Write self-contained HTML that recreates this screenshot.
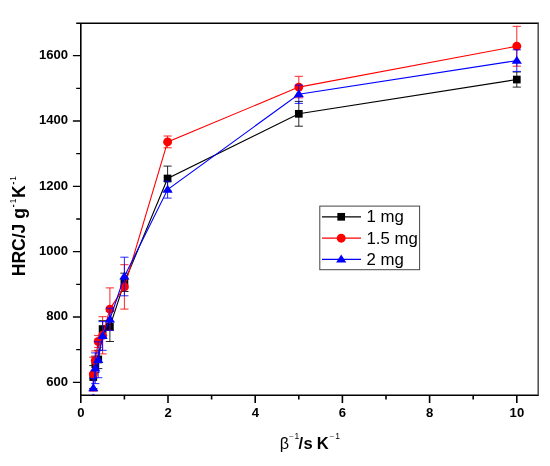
<!DOCTYPE html>
<html><head><meta charset="utf-8"><title>HRC chart</title>
<style>html,body{margin:0;padding:0;background:#fff}body{width:550px;height:466px;overflow:hidden}svg{display:block}text{font-family:"Liberation Sans",Arial,sans-serif}</style></head><body>
<svg width="550" height="466" viewBox="0 0 550 466">
<rect width="550" height="466" fill="#fff"/>
<clipPath id="c"><rect x="80.8" y="23.3" width="457.4" height="371.8"/></clipPath>
<g clip-path="url(#c)">
<polyline points="93.3,377.1 95.3,364.3 98.2,359.4 102.6,329.1 109.9,326.5 124.4,282.4 167.6,178.5 298.8,113.8 516.8,79.5" fill="none" stroke="#000" stroke-width="1.1"/>
<rect x="89.42" y="373.22" width="7.7" height="7.7" fill="#000"/>
<rect x="91.47" y="360.49" width="7.7" height="7.7" fill="#000"/>
<rect x="94.39" y="355.59" width="7.7" height="7.7" fill="#000"/>
<rect x="98.75" y="325.21" width="7.7" height="7.7" fill="#000"/>
<rect x="106.03" y="322.60" width="7.7" height="7.7" fill="#000"/>
<rect x="120.55" y="278.51" width="7.7" height="7.7" fill="#000"/>
<rect x="163.71" y="174.65" width="7.7" height="7.7" fill="#000"/>
<rect x="294.95" y="109.98" width="7.7" height="7.7" fill="#000"/>
<rect x="512.95" y="75.69" width="7.7" height="7.7" fill="#000"/>
</g>
<path d="M93.3 365.6V388.5M89.2 365.6h8.2M89.2 388.5h8.2M95.3 356.2V372.5M91.2 356.2h8.2M91.2 372.5h8.2M98.2 350.3V368.6M94.1 350.3h8.2M94.1 368.6h8.2M102.6 320.6V337.6M98.5 320.6h8.2M98.5 337.6h8.2M109.9 311.4V341.5M105.8 311.4h8.2M105.8 341.5h8.2M124.4 273.2V291.5M120.3 273.2h8.2M120.3 291.5h8.2M167.6 166.1V190.9M163.5 166.1h8.2M163.5 190.9h8.2M298.8 101.4V126.2M294.7 101.4h8.2M294.7 126.2h8.2M516.8 72.0V87.1M512.7 72.0h8.2M512.7 87.1h8.2" fill="none" stroke="#000" stroke-width="0.85" clip-path="url(#c)"/>
<g clip-path="url(#c)">
<polyline points="93.3,374.1 95.3,360.4 98.2,341.5 102.6,335.3 109.9,309.1 124.4,286.9 167.6,141.9 298.8,87.1 516.8,46.2" fill="none" stroke="#f00" stroke-width="1.1"/>
<circle cx="93.3" cy="374.1" r="4.45" fill="#f00"/>
<circle cx="95.3" cy="360.4" r="4.45" fill="#f00"/>
<circle cx="98.2" cy="341.5" r="4.45" fill="#f00"/>
<circle cx="102.6" cy="335.3" r="4.45" fill="#f00"/>
<circle cx="109.9" cy="309.1" r="4.45" fill="#f00"/>
<circle cx="124.4" cy="286.9" r="4.45" fill="#f00"/>
<circle cx="167.6" cy="141.9" r="4.45" fill="#f00"/>
<circle cx="298.8" cy="87.1" r="4.45" fill="#f00"/>
<circle cx="516.8" cy="46.2" r="4.45" fill="#f00"/>
</g>
<path d="M93.3 357.2V391.1M89.2 357.2h8.2M89.2 391.1h8.2M95.3 350.9V369.9M91.2 350.9h8.2M91.2 369.9h8.2M98.2 335.6V347.4M94.1 335.6h8.2M94.1 347.4h8.2M102.6 316.7V353.9M98.5 316.7h8.2M98.5 353.9h8.2M109.9 287.9V330.4M105.8 287.9h8.2M105.8 330.4h8.2M124.4 264.7V309.1M120.3 264.7h8.2M120.3 309.1h8.2M167.6 136.0V147.8M163.5 136.0h8.2M163.5 147.8h8.2M298.8 76.3V97.8M294.7 76.3h8.2M294.7 97.8h8.2M516.8 26.3V66.2M512.7 26.3h8.2M512.7 66.2h8.2" fill="none" stroke="#f00" stroke-width="0.85" clip-path="url(#c)"/>
<g clip-path="url(#c)">
<polyline points="93.3,388.2 95.3,368.3 98.2,359.8 102.6,335.9 109.9,319.3 124.4,276.5 167.6,189.6 298.8,94.2 516.8,60.6" fill="none" stroke="#00f" stroke-width="1.1"/>
<path d="M93.3 383.3L98.4 391.3H88.2Z" fill="#00f"/>
<path d="M95.3 363.4L100.4 371.4H90.2Z" fill="#00f"/>
<path d="M98.2 354.9L103.3 362.9H93.1Z" fill="#00f"/>
<path d="M102.6 331.0L107.7 339.0H97.5Z" fill="#00f"/>
<path d="M109.9 314.4L115.0 322.4H104.8Z" fill="#00f"/>
<path d="M124.4 271.6L129.5 279.6H119.3Z" fill="#00f"/>
<path d="M167.6 184.7L172.7 192.7H162.5Z" fill="#00f"/>
<path d="M298.8 89.3L303.9 97.3H293.7Z" fill="#00f"/>
<path d="M516.8 55.7L521.9 63.7H511.7Z" fill="#00f"/>
</g>
<path d="M93.3 378.4V391.2M89.2 378.4h8.2M95.3 352.9V383.6M91.2 352.9h8.2M91.2 383.6h8.2M98.2 341.8V377.7M94.1 341.8h8.2M94.1 377.7h8.2M102.6 321.6V350.3M98.5 321.6h8.2M98.5 350.3h8.2M109.9 308.2V330.4M105.8 308.2h8.2M105.8 330.4h8.2M124.4 257.2V295.8M120.3 257.2h8.2M120.3 295.8h8.2M167.6 181.1V198.1M163.5 181.1h8.2M163.5 198.1h8.2M298.8 85.1V103.4M294.7 85.1h8.2M294.7 103.4h8.2M516.8 49.8V71.4M512.7 49.8h8.2M512.7 71.4h8.2" fill="none" stroke="#00f" stroke-width="0.85" clip-path="url(#c)"/>
<path d="M80.8 23.3V403.1M76.2 23.3H538.9000000000001" fill="none" stroke="#000" stroke-width="1.6"/>
<path d="M80.8 395.20000000000005H538.8000000000001" fill="none" stroke="#000" stroke-width="1.35"/>
<path d="M538.2 23.3V395.1" fill="none" stroke="#4a4a4a" stroke-width="1.5"/>
<path d="M80.8 382.3h-7.9M80.8 317.0h-7.9M80.8 251.7h-7.9M80.8 186.3h-7.9M80.8 121.0h-7.9M80.8 55.7h-7.9M80.8 349.6h-4.6M80.8 284.3h-4.6M80.8 219.0h-4.6M80.8 153.7h-4.6M80.8 88.4h-4.6" fill="none" stroke="#000" stroke-width="1.3"/>
<path d="M168.0 395.1v7.8M255.2 395.1v7.8M342.4 395.1v7.8M429.6 395.1v7.8M516.8 395.1v7.8M124.4 395.1v4.5M211.6 395.1v4.5M298.8 395.1v4.5M386.0 395.1v4.5M473.2 395.1v4.5" fill="none" stroke="#000" stroke-width="1.6"/>
<rect x="92.3" y="393.9" width="2" height="1" fill="#00f"/>
<text transform="translate(68.1,385.6) scale(1,1.04)" font-size="13.1" font-weight="bold" text-anchor="end">600</text>
<text transform="translate(68.1,320.3) scale(1,1.04)" font-size="13.1" font-weight="bold" text-anchor="end">800</text>
<text transform="translate(68.1,255.0) scale(1,1.04)" font-size="13.1" font-weight="bold" text-anchor="end">1000</text>
<text transform="translate(68.1,189.6) scale(1,1.04)" font-size="13.1" font-weight="bold" text-anchor="end">1200</text>
<text transform="translate(68.1,124.3) scale(1,1.04)" font-size="13.1" font-weight="bold" text-anchor="end">1400</text>
<text transform="translate(68.1,59.0) scale(1,1.04)" font-size="13.1" font-weight="bold" text-anchor="end">1600</text>
<text transform="translate(80.9,417.2) scale(1,1.04)" font-size="13.1" font-weight="bold" text-anchor="middle">0</text>
<text transform="translate(168.1,417.2) scale(1,1.04)" font-size="13.1" font-weight="bold" text-anchor="middle">2</text>
<text transform="translate(255.3,417.2) scale(1,1.04)" font-size="13.1" font-weight="bold" text-anchor="middle">4</text>
<text transform="translate(342.5,417.2) scale(1,1.04)" font-size="13.1" font-weight="bold" text-anchor="middle">6</text>
<text transform="translate(429.7,417.2) scale(1,1.04)" font-size="13.1" font-weight="bold" text-anchor="middle">8</text>
<text transform="translate(516.9,417.2) scale(1,1.04)" font-size="13.1" font-weight="bold" text-anchor="middle">10</text>
<text transform="translate(25.1,276.2) rotate(-90)" font-size="17.5" font-weight="bold">HRC/J g<tspan font-size="8.4" dx="1" dy="-9.5">-</tspan><tspan font-size="8.4" dx="1" font-weight="normal">1</tspan><tspan dx="0.6" dy="9.5">K</tspan><tspan font-size="8.4" dx="1" dy="-9.5">-</tspan><tspan font-size="8.4" dx="1" font-weight="normal">1</tspan></text>
<text x="279.8" y="448.6" font-size="16.2" font-family="'Liberation Serif',serif">β</text>
<text x="289" y="439.2" font-size="8.5"><tspan fill="#555">−</tspan><tspan dx="0.6">1</tspan></text>
<text x="298.4" y="449" font-size="16.5" font-weight="bold" letter-spacing="0.5">/s</text>
<text x="316.8" y="449" font-size="16.5" font-weight="bold">K</text>
<text x="329.6" y="439.2" font-size="8.5"><tspan fill="#555">−</tspan><tspan dx="0.6">1</tspan></text>
<rect x="319.8" y="206.1" width="99.8" height="63.6" fill="#fff" stroke="#444" stroke-width="1"/>
<path d="M322 216.8H361" stroke="#000" stroke-width="1.2"/>
<rect x="337.35" y="212.95" width="7.7" height="7.7" fill="#000"/>
<text transform="translate(366.5,222.4) scale(1,1.03)" font-size="16.8">1 mg</text>
<path d="M322 238.2H361" stroke="#f00" stroke-width="1.2"/>
<circle cx="341.2" cy="238.2" r="4.45" fill="#f00"/>
<text transform="translate(366.5,243.8) scale(1,1.03)" font-size="16.8">1.5 mg</text>
<path d="M322 259.4H361" stroke="#00f" stroke-width="1.2"/>
<path d="M341.2 254.5L346.3 262.5H336.1Z" fill="#00f"/>
<text transform="translate(366.5,265.0) scale(1,1.03)" font-size="16.8">2 mg</text>
</svg></body></html>
